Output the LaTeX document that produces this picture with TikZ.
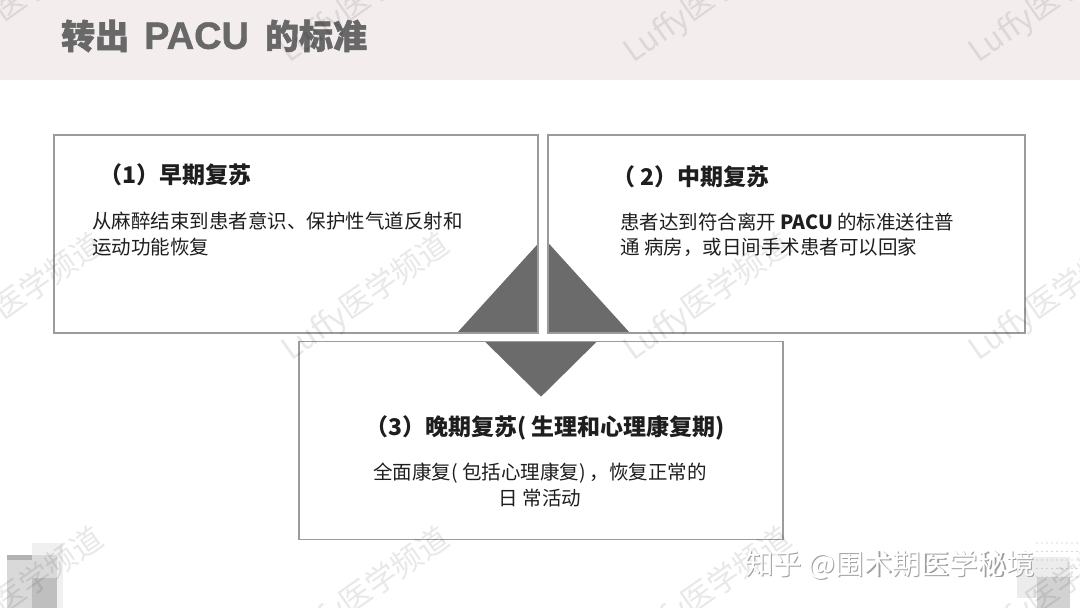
\documentclass[tikz,border=0pt]{standalone}
\usepackage{fontspec}
\setmainfont{Noto Sans CJK SC}
\newfontfamily\heavycjk[BoldFeatures={FakeBold=1.6}]{Noto Sans CJK SC}
\newfontfamily\heavylatin[BoldFeatures={FakeBold=1.2}]{Liberation Sans}
\definecolor{band}{RGB}{243,237,237}
\definecolor{titlegray}{RGB}{104,104,104}
\definecolor{boxgray}{RGB}{155,155,155}
\definecolor{trigray}{RGB}{107,107,107}
\definecolor{txt}{RGB}{30,30,30}
\begin{document}
\begin{tikzpicture}[x=1pt,y=-1pt,
  box/.style={draw=boxgray, line width=1.3pt, inner sep=0pt, outer sep=0pt},
  tri/.style={fill=trigray, draw=none},
  titlestyle/.style={font=\fontsize{34}{34}\selectfont\heavycjk\bfseries, text=titlegray, inner sep=0pt},
  head/.style={font=\fontsize{23}{23}\selectfont\bfseries, text=txt, inner sep=0pt},
  body/.style={font=\fontsize{19.5}{26}\selectfont, text=txt, inner sep=0pt},
  wm/.style={font=\fontsize{31}{31}\selectfont, text=black, opacity=0.09, rotate=35, inner sep=0pt},
]
\useasboundingbox (0,0) rectangle (1080,608);
% header band
\fill[band] (0,0) rectangle (1080,80);
\node[titlestyle, anchor=west] (title) at (61,36) {转出\hspace{15pt}{\fontsize{38}{38}\selectfont\heavylatin\bfseries PACU}\hspace{16pt}的标准};

% diamond pieces
\fill[tri] (456.7,333.3) -- (538.5,243.2) -- (538.5,333.3) -- cycle;
\fill[tri] (548.3,243.0) -- (630.3,333.3) -- (548.3,333.3) -- cycle;
\fill[tri] (485,341.7) -- (596.7,341.7) -- (541,396.7) -- cycle;

% boxes
\node[box, minimum width=484pt, minimum height=198pt, anchor=north west] (b1) at (54,135) {};
\node[box, minimum width=477pt, minimum height=198pt, anchor=north west] (b2) at (548,135) {};
\node[box, minimum width=484pt, minimum height=198pt, anchor=north west] (b3) at (299,341.7) {};

% box 1
\node[head, anchor=west] (h1) at (99,175) {（1）早期复苏};
\node[body, anchor=west] (t1a) at (92,221) {从麻醉结束到患者意识、保护性气道反射和};
\node[body, anchor=west] (t1b) at (92,247) {运动功能恢复};

% box 2
\node[head, anchor=west] (h2) at (612,177) {（ 2）中期复苏};
\node[body, anchor=west] (t2a) at (620,222) {患者达到符合离开 \textbf{PACU} 的标准送往普};
\node[body, anchor=west] (t2b) at (620,247) {通 病房，或日间手术患者可以回家};

% box 3
\node[head] (h3) at (545,428) {（3）晚期复苏( 生理和心理康复期)};
\node[body] (t3a) at (540,473) {全面康复( 包括心理康复) ，恢复正常的};
\node[body] (t3b) at (540,498) {日 常活动};

% decorative squares bottom left
\fill[gray!12] (32,543) rectangle (63,608);
\fill[gray!30] (7,555) rectangle (57,608);
\fill[gray!60] (7,555) rectangle (32,560);
\fill[gray!50] (32,578) rectangle (57,608);
% decorative squares bottom right
\fill[gray!15] (1017,557) rectangle (1070,598);
\fill[gray!35] (1037,577) rectangle (1070,608);
\foreach \yy in {543,551.5,560,568.5,577}{
  \foreach \xx in {1037,1042,...,1077}{
    \fill[gray!60] (\xx,\yy) circle (0.7);
  }
}

% watermarks
\node[wm] (w1) at (20,0) {Luffy医学频道};
\node[wm] (w2) at (364,0) {Luffy医学频道};
\node[wm] (w3) at (708,0) {Luffy医学频道};
\node[wm] (w4) at (1053,0) {Luffy医学频道};
\node[wm] (w5) at (20,298) {Luffy医学频道};
\node[wm] (w6) at (366,298) {Luffy医学频道};
\node[wm] (w7) at (708,298) {Luffy医学频道};
\node[wm] (w8) at (1053,298) {Luffy医学频道};
\node[wm] (w9) at (20,592) {Luffy医学频道};
\node[wm] (w10) at (366,592) {Luffy医学频道};
\node[wm] (w11) at (708,592) {Luffy医学频道};
\node[wm] (w12) at (1053,592) {Luffy医学频道};

% zhihu watermark
\node[font=\fontsize{28.5}{28.5}\selectfont, text=gray!75, inner sep=0pt] (zs) at (891.2,566.2) {知乎 @围术期医学秘境};
\node[font=\fontsize{28.5}{28.5}\selectfont, text=white, inner sep=0pt] (zt) at (890,565) {知乎 @围术期医学秘境};
\end{tikzpicture}
\end{document}
